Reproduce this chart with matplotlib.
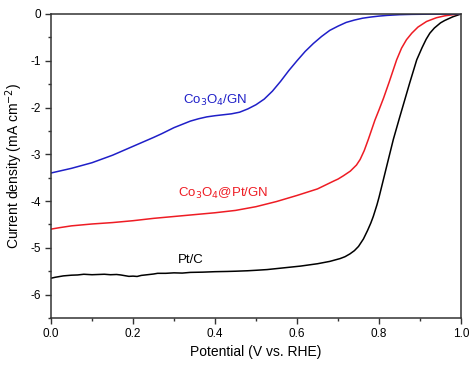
import numpy as np
import matplotlib.pyplot as plt
from matplotlib.ticker import MultipleLocator

plt.rcParams['font.family'] = ['Liberation Sans', 'DejaVu Sans']

# Co3O4/GN (blue)
v_gn = [0.0, 0.05, 0.1, 0.15, 0.2, 0.25, 0.27, 0.3, 0.32, 0.34, 0.36, 0.38, 0.40,
        0.42, 0.44, 0.46, 0.48, 0.50, 0.52, 0.54, 0.56, 0.58, 0.60, 0.62, 0.64, 0.66,
        0.68, 0.70, 0.72, 0.74, 0.76, 0.78, 0.80, 0.82, 0.85, 0.88, 0.92, 0.96, 1.0]
j_gn = [-3.40, -3.30, -3.18, -3.02, -2.83, -2.64, -2.56, -2.43, -2.36, -2.29, -2.24,
        -2.20, -2.175, -2.155, -2.135, -2.10, -2.03, -1.94, -1.82, -1.65, -1.44, -1.21,
        -1.00, -0.80, -0.63, -0.48, -0.35, -0.26, -0.18, -0.13, -0.09, -0.065, -0.045,
        -0.03, -0.015, -0.008, -0.004, -0.001, 0.0]

# Co3O4@Pt/GN (red)
v_ptgn = [0.0, 0.02, 0.05, 0.1, 0.15, 0.2, 0.25, 0.3, 0.35, 0.4, 0.45, 0.5, 0.55, 0.6,
          0.65, 0.69, 0.70, 0.713, 0.73, 0.745, 0.754, 0.764, 0.774, 0.79, 0.80, 0.811,
          0.825, 0.843, 0.855, 0.867, 0.88, 0.895, 0.916, 0.94, 0.96, 0.98, 1.0]
j_ptgn = [-4.60, -4.57, -4.53, -4.49, -4.46, -4.42, -4.37, -4.33, -4.29, -4.25, -4.20,
          -4.12, -4.01, -3.88, -3.74, -3.57, -3.53, -3.46, -3.36, -3.23, -3.11, -2.92,
          -2.68, -2.27, -2.05, -1.80, -1.45, -0.98, -0.73, -0.55, -0.41, -0.28, -0.16,
          -0.08, -0.04, -0.015, 0.0]

# Pt/C (black)
v_ptc = [0.0, 0.01, 0.03, 0.05, 0.065, 0.08, 0.1, 0.115, 0.13, 0.145, 0.16, 0.17, 0.18,
         0.19, 0.2, 0.21, 0.22, 0.235, 0.25, 0.26, 0.28, 0.3, 0.32, 0.34, 0.37, 0.4,
         0.43, 0.45, 0.48, 0.5, 0.527, 0.56, 0.609, 0.65, 0.68, 0.705, 0.717, 0.729,
         0.74, 0.75, 0.762, 0.772, 0.78, 0.786, 0.795, 0.80, 0.811, 0.82, 0.835, 0.85,
         0.863, 0.875, 0.892, 0.905, 0.915, 0.924, 0.935, 0.95, 0.96, 0.97, 0.98, 0.99,
         1.0]
j_ptc = [-5.65, -5.63, -5.60, -5.585, -5.58, -5.565, -5.575, -5.57, -5.565, -5.575,
         -5.57, -5.58, -5.595, -5.61, -5.605, -5.612, -5.59, -5.575, -5.56, -5.545,
         -5.545, -5.535, -5.54, -5.525, -5.52, -5.51, -5.505, -5.50, -5.49, -5.48,
         -5.465, -5.435, -5.39, -5.34, -5.29, -5.23, -5.19, -5.13, -5.06, -4.97, -4.81,
         -4.63, -4.47, -4.33, -4.08, -3.92, -3.53, -3.21, -2.68, -2.22, -1.83, -1.47,
         -0.98, -0.72, -0.54, -0.41, -0.30, -0.19, -0.14, -0.10, -0.06, -0.03, 0.0]

fig = plt.figure(figsize=(4.74, 3.71), dpi=100)
ax = fig.add_axes([0.1076, 0.1429, 0.8650, 0.8194])

ax.plot(v_ptc, j_ptc, color='black', lw=1.1)
ax.plot(v_ptgn, j_ptgn, color='#ee1c24', lw=1.1)
ax.plot(v_gn, j_gn, color='#1f1fc8', lw=1.1)

ax.text(0.322, -1.915, r'Co$_3$O$_4$/GN', color='#1f1fc8', fontsize=9.5, va='baseline')
ax.text(0.31, -3.915, r'Co$_3$O$_4$@Pt/GN', color='#ee1c24', fontsize=9.5, va='baseline')
ax.text(0.31, -5.32, 'Pt/C', color='black', fontsize=9.5, va='baseline')

ax.set_xlim(0, 1.0)
ax.set_ylim(-6.5, 0)
ax.xaxis.set_major_locator(MultipleLocator(0.2))
ax.xaxis.set_minor_locator(MultipleLocator(0.1))
ax.yaxis.set_major_locator(MultipleLocator(1))
ax.yaxis.set_minor_locator(MultipleLocator(0.5))
ax.xaxis.set_major_formatter(plt.FormatStrFormatter('%.1f'))
ax.yaxis.set_major_formatter(plt.FormatStrFormatter('%d'))
ax.tick_params(which='major', direction='out', length=4, width=1, labelsize=8.5,
               color='#333333', pad=3)
ax.tick_params(which='minor', direction='out', length=2.5, width=1, color='#333333')
for s in ax.spines.values():
    s.set_color('#333333')
    s.set_linewidth(1.1)

ax.set_xlabel('Potential (V vs. RHE)', fontsize=10)
ax.set_ylabel(r'Current density (mA cm$^{-2}$)', fontsize=10, labelpad=4)

fig.savefig('out.png', dpi=100)
